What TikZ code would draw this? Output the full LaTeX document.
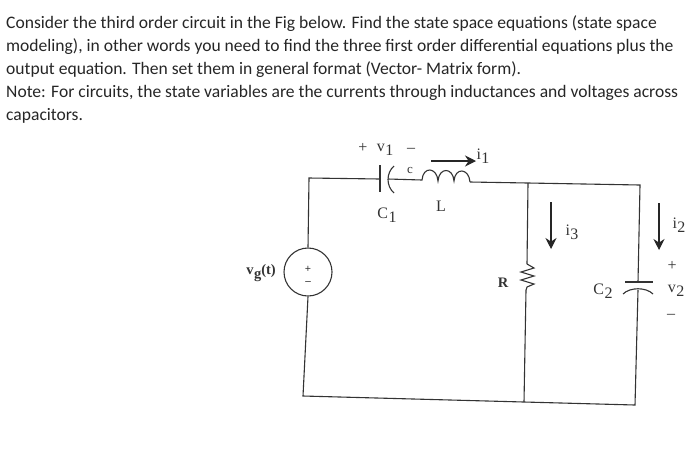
\documentclass[tikz,border=0pt]{standalone}
\usepackage{fontspec}
\setmainfont{Carlito}
\newfontfamily\labelfont{Liberation Serif}
\usetikzlibrary{arrows.meta}
\newcommand{\lowsub}[1]{\kern0.5pt\raisebox{-4pt}{#1}}
\tikzset{
wire/.style={draw=black!80, line width=1.1pt},
prose/.style={anchor=base west, inner sep=0pt, text=black!85, font=\fontsize{17.55}{20}\selectfont},
lab/.style={inner sep=0pt, text=black!80, font=\labelfont\fontsize{16}{18}\selectfont},
boldlab/.style={lab, font=\labelfont\bfseries\fontsize{14.5}{16}\selectfont},
signlab/.style={lab, font=\labelfont\bfseries\fontsize{11}{11}\selectfont},
current/.style={draw=black!85, line width=1.1pt, -{Stealth[length=11pt,width=11pt]}},
}
\begin{document}
\begin{tikzpicture}
[x=1pt,y=-1pt]
\useasboundingbox (0,0) rectangle (700,467);
\node [prose] (line1) at (6,28) {Consider the third order circuit in the Fig below. Find the state space equations (state space};
\node [prose] (line2) at (6,51) {modeling), in other words you need to find the three first order differential equations plus the};
\node [prose] (line3) at (6,74) {output equation. Then set them in general format (Vector- Matrix form).};
\node [prose] (line4) at (6,97) {Note: For circuits, the state variables are the currents through inductances and voltages across};
\node [prose] (line5) at (6,120) {capacitors.};
% corners and junctions
\coordinate (tl) at (309,178);
\coordinate (capa) at (380,179);
\coordinate (capb) at (388,179);
\coordinate (coila) at (422,180);
\coordinate (coilb) at (470,182);
\coordinate (jt) at (528,183);
\coordinate (tr) at (640,185);
\coordinate (ra) at (527,264);
\coordinate (rb) at (526,290);
\coordinate (jb) at (524,402);
\coordinate (bl) at (303,396);
\coordinate (br) at (635,405);
\coordinate (cta) at (638,282);
\coordinate (ctb) at (638,290);
\node [circle, wire, minimum size=48pt, inner sep=0pt] (vg) at (308,272) {};
\node [signlab] (vgplus) at (308,269) {+};
\node [signlab] (vgminus) at (308,283) {–};
% wires
\draw [wire] (vg.north) -- (tl) -- (capa);
\draw [wire] (capb) -- (coila)
.. controls +(1,-14) and +(-1,-14) .. ++(16,1)
.. controls +(1,-14) and +(-1,-14) .. ++(16,0)
.. controls +(1,-14) and +(-1,-14) .. (coilb);
\draw [wire] (coilb) -- (jt) -- (tr) -- (cta);
\draw [wire] (ctb) -- (br) -- (jb) -- (bl) -- (vg.south);
\draw [wire] (jt) -- (ra);
\draw [wire] (ra) -- ++(7,4) -- ++(-13,4) -- ++(13,4) -- ++(-13,4) -- ++(13,4) -- ++(-7,3) -- (rb);
\draw [wire] (rb) -- (jb);
% capacitors
\draw [wire] (380,165) -- (380,192);
\draw [wire] (394,166) .. controls (386,173) and (386,186) .. (394,193);
\draw [wire] (625,282) -- (653,282);
\draw [wire] (623,294) .. controls (630,287) and (646,287) .. (653,294);
% currents
\coordinate (i1a) at (431,161);
\coordinate (i1b) at (476,161);
\coordinate (i3a) at (551,202);
\coordinate (i3b) at (551,249);
\coordinate (i2a) at (659,203);
\coordinate (i2b) at (659,250);
\draw [current] (i1a) -- (i1b);
\draw [current] (i3a) -- (i3b);
\draw [current] (i2a) -- (i2b);
% labels
\node [lab] (v1plus) at (363,148) {+};
\node [lab] (v1lab) at (385,150) {v\lowsub{1}};
\node [lab] (v1minus) at (411,150) {–};
\node [lab, font=\labelfont\fontsize{13}{15}\selectfont] (clab) at (410,170) {c};
\node [lab] (llab) at (441,206) {L};
\node [lab] (c1lab) at (387,215) {C\lowsub{1}};
\node [lab] (i1lab) at (483,156) {i\lowsub{1}};
\node [boldlab] (vglab) at (261,273) {v\lowsub{g}(t)};
\node [boldlab] (rlab) at (503,283) {R};
\node [lab] (i3lab) at (572,232) {i\lowsub{3}};
\node [lab] (i2lab) at (679,225) {i\lowsub{2}};
\node [lab] (v2plus) at (672,266) {+};
\node [lab] (v2lab) at (676,291) {v\lowsub{2}};
\node [lab] (v2minus) at (671,316) {–};
\node [lab] (c2lab) at (603,291) {C\lowsub{2}};
\end{tikzpicture}
\end{document}
